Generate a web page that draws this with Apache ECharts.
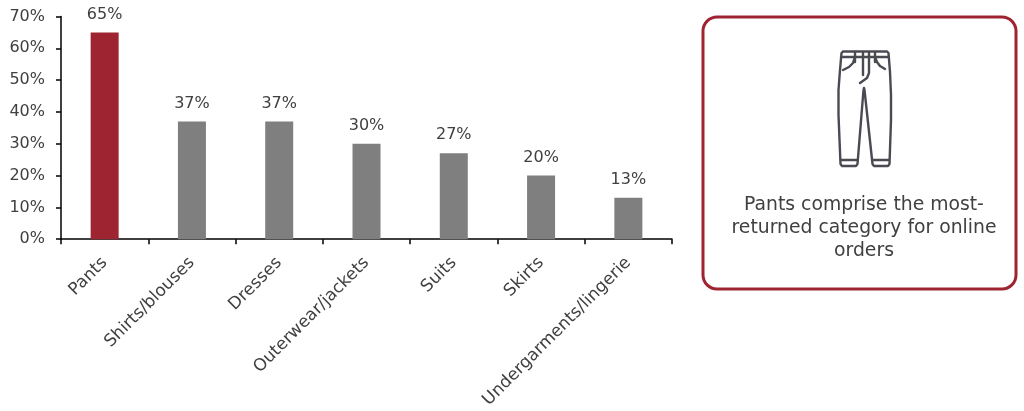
<!DOCTYPE html>
<html>
<head>
<meta charset="utf-8">
<script src="https://cdn.jsdelivr.net/npm/echarts@6/dist/echarts.min.js"></script>
<style>html,body{margin:0;padding:0;background:#fff}#c{width:1024px;height:411px}</style>
</head>
<body>
<div id="c"></div>
<script>
const categories = ["Pants","Shirts/blouses","Dresses","Outerwear/jackets","Suits","Skirts","Undergarments/lingerie"];
const values = [65,37,37,30,27,20,13];
const highlighted = ["Pants"];
const calloutLines = ["Pants comprise the most-","returned category for online","orders"];
const font = "DejaVu Sans";
const textColor = "#404040";
const red = "#9E2432";
const grey = "#7F7F7F";
const iconLines = [
 [[843,51.5],[887,51.5],[888.5,53],[890,72],[891,95],[891,120],[889.5,164],[888,166],[874,166],[872.5,164],[864.5,90],[864,88],[863.5,90],[857.5,164],[856,166],[842,166],[840.5,164],[838.5,115],[838.5,90],[840,70],[841.5,53],[843,51.5]],
 [[841,57],[888,57]],
 [[843,70],[849,67],[853,63],[855,57]],
 [[885,69],[880,66],[877,62],[875,57]],
 [[855,52],[855,62]],
 [[875,52],[875,62]],
 [[863,53],[863,75]],
 [[869,53],[869,73],[867,78],[860,83]],
 [[841,160],[857,160]],
 [[873,160],[889,160]]
];
const chart = echarts.init(document.getElementById('c'), null, {renderer:'canvas'});
chart.setOption({
  animation:false,
  backgroundColor:'#fff',
  grid:{left:61,right:352,top:16.5,bottom:170.5,containLabel:false},
  xAxis:{type:'category',data:categories,
    axisLine:{show:true,lineStyle:{color:'#000',width:1.5}},
    axisTick:{show:true,alignWithLabel:false,length:5,lineStyle:{color:'#000',width:1.5}},
    axisLabel:{rotate:45,interval:0,margin:21,fontFamily:font,fontSize:17,color:textColor}},
  yAxis:{type:'value',min:0,max:70,interval:10,
    axisLine:{show:true,lineStyle:{color:'#000',width:1.5}},
    axisTick:{show:true,length:5,lineStyle:{color:'#000',width:1.5}},
    splitLine:{show:false},
    axisLabel:{formatter:'{value}%',margin:16,padding:[3,0,0,0],fontFamily:font,fontSize:16,color:textColor}},
  series:[{type:'bar',barWidth:28,
    data:values.map((v,i)=>({value:v,itemStyle:{color:highlighted.includes(categories[i])?red:grey}})),
    label:{show:true,position:'top',distance:10,formatter:'{c}%',fontFamily:font,fontSize:16,color:textColor}}],
  graphic:[
    {type:'rect',shape:{x:703,y:17,width:313,height:272,r:14},style:{fill:'#fff',stroke:red,lineWidth:3}},
    ...iconLines.map(p=>({type:'polyline',shape:{points:p},style:{fill:null,stroke:'#4A4A52',lineWidth:2.4,lineCap:'round',lineJoin:'round'}})),
    ...calloutLines.map((t,i)=>({type:'text',x:864,y:205+i*23,style:{text:t,fontFamily:font,fontSize:18.8,fill:textColor,align:'center',verticalAlign:'middle'}}))
  ]
});
</script>
</body>
</html>
